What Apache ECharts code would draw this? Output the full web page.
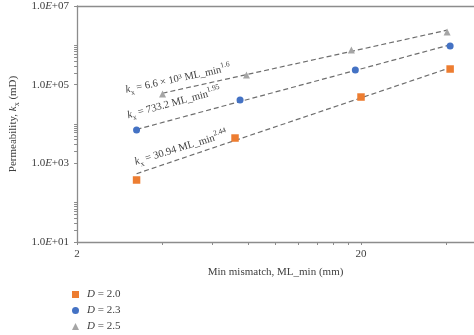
<!DOCTYPE html>
<html><head><meta charset="utf-8">
<script src="https://cdn.jsdelivr.net/npm/echarts@6/dist/echarts.min.js"></script>
<style>html,body{margin:0;padding:0;background:#fff}#c{width:474px;height:335px}</style>
</head><body><div id="c"></div>
<script>
// Data
const seriesNames = ['D = 2.0', 'D = 2.3', 'D = 2.5'];
const colors = ['#ED7D31', '#4472C4', '#A5A5A5'];
const symbols = ['rect', 'circle', 'triangle'];
const d20 = [[3.24, 377], [7.2, 4400], [20, 48500], [41.2, 250000]];
const d23 = [[3.24, 7030], [7.5, 40700], [19.1, 236000], [41.2, 962000]];
const d25 = [[4.0, 57900], [7.9, 176000], [18.5, 760000], [40.2, 2180000]];
// trend line end points (power-law fits, straight on log-log)
const t20 = [[3.24, 545], [41.2, 269000]];
const t23 = [[3.24, 7260], [41.2, 1030000]];
const t25 = [[4.0, 60600], [40.2, 2430000]];
const xTickValues = [2, 4, 6, 8, 10, 12, 14, 16, 18, 20, 40];
const xLabelValues = [2, 20];
const yLabelValues = [10, 1000, 100000, 10000000];
const yTickValues = [10, 10, 20, 30, 40, 50, 60, 70, 80, 90, 100,
  1000, 2000, 3000, 4000, 5000, 6000, 7000, 8000, 9000, 10000,
  100000, 200000, 300000, 400000, 500000, 600000, 700000, 800000, 900000, 1000000, 10000000];

const serif = 'Liberation Serif';
const txt = '#404040';
const axisCol = '#8c8c8c';

const chart = echarts.init(document.getElementById('c'), null, {renderer: 'canvas'});

function eq(main, sup) {
  return {
    text: '{i|k}{sub|x}{n| = ' + main + ' ML_min}{sup|' + sup + '}',
    rich: {
      i: {fontFamily: serif, fontSize: 10.5, fontStyle: 'italic', fill: txt, lineHeight: 16, verticalAlign: 'middle'},
      n: {fontFamily: serif, fontSize: 10.5, fill: txt, lineHeight: 16, verticalAlign: 'middle'},
      sub: {fontFamily: serif, fontSize: 7.5, fill: txt, lineHeight: 16, verticalAlign: 'bottom'},
      sup: {fontFamily: serif, fontSize: 7.5, fill: txt, lineHeight: 16, verticalAlign: 'top'}
    }
  };
}
function label(x, y, deg, main, sup) {
  const s = eq(main, sup);
  return {
    type: 'text', x: x, y: y, rotation: deg * Math.PI / 180, z: 100,
    style: Object.assign({align: 'center', verticalAlign: 'middle', fontFamily: serif, fontSize: 10.5, fill: txt}, s)
  };
}

const scatter = [d20, d23, d25].map(function (d, i) {
  return {
    name: seriesNames[i], type: 'scatter', data: d, symbol: symbols[i],
    symbolSize: i === 0 ? 7.5 : 7, itemStyle: {color: colors[i], opacity: 1}, z: 5
  };
});
const trends = [t20, t23, t25].map(function (d, i) {
  return {
    name: 'trend' + i, type: 'line', data: d, symbol: 'none', silent: true,
    lineStyle: {color: '#6e6e6e', width: 1.2, type: [5, 3]}, z: 3
  };
});

const legends = seriesNames.map(function (n, i) {
  return {
    orient: 'vertical', left: 72, top: 289 + i * 16, itemWidth: 7, itemHeight: 7, padding: 0,
    data: [{name: n, icon: symbols[i]}],
    formatter: function (t) { return '{i|D}{n|' + t.slice(1) + '}'; },
    textStyle: {
      fontFamily: serif, fontSize: 11, color: txt,
      rich: {i: {fontFamily: serif, fontSize: 11, fontStyle: 'italic', color: txt, padding: [0, 0, 0, 3]}, n: {fontFamily: serif, fontSize: 11, color: txt}}
    }
  };
});

chart.setOption({
  animation: false,
  grid: {left: 72, right: 0, top: 6, bottom: 93},
  legend: legends,
  xAxis: [{
    type: 'log', logBase: 10, min: 2, max: 50,
    name: 'Min mismatch, ML_min (mm)', nameLocation: 'middle', nameGap: 25,
    nameTextStyle: {fontFamily: serif, fontSize: 11, color: txt},
    axisLine: {show: true, lineStyle: {color: axisCol, width: 1.3}},
    axisTick: {show: true, length: 3, customValues: xTickValues, lineStyle: {color: axisCol}},
    axisLabel: {customValues: xLabelValues, fontFamily: serif, fontSize: 11, color: txt, margin: 7,
      formatter: function (v) { return String(Math.round(v)); }},
    splitLine: {show: false}, minorTick: {show: false}
  }, {
    type: 'value', position: 'top', min: 0, max: 1,
    axisLine: {show: true, onZero: false, lineStyle: {color: axisCol, width: 1.3}},
    axisTick: {show: false}, axisLabel: {show: false}, splitLine: {show: false}
  }],
  yAxis: {
    type: 'log', logBase: 10, min: 10, max: 10000000,
    name: '{n|Permeability, }{i|k}{sub|x}{n| (mD)}', nameLocation: 'middle', nameGap: 56, nameRotate: 90,
    nameTextStyle: {
      fontFamily: serif, fontSize: 11, color: txt,
      rich: {
        n: {fontFamily: serif, fontSize: 11, color: txt, lineHeight: 14, verticalAlign: 'middle'},
        i: {fontFamily: serif, fontSize: 11, fontStyle: 'italic', color: txt, lineHeight: 14, verticalAlign: 'middle'},
        sub: {fontFamily: serif, fontSize: 8, color: txt, lineHeight: 14, verticalAlign: 'bottom'}
      }
    },
    axisLine: {show: true, lineStyle: {color: axisCol, width: 1.3}},
    axisTick: {show: true, length: 3, customValues: yTickValues, lineStyle: {color: axisCol}},
    axisLabel: {
      customValues: yLabelValues, margin: 8, fontFamily: serif, fontSize: 11, color: txt,
      formatter: function (v) {
        const e = Math.round(Math.log10(v));
        return '{n|1.0}{i|E}{n|+' + (e < 10 ? '0' : '') + e + '}';
      },
      rich: {n: {fontFamily: serif, fontSize: 11, color: txt}, i: {fontFamily: serif, fontSize: 11, fontStyle: 'italic', color: txt}}
    },
    splitLine: {show: false}, minorTick: {show: false}
  },
  graphic: [
    label(178, 79, 12, '6.6 × 10³', '1.6'),
    label(174, 103, 15, '733.2', '1.95'),
    label(181, 148, 17, '30.94', '2.44')
  ],
  series: trends.concat(scatter)
});
</script>
</body></html>
